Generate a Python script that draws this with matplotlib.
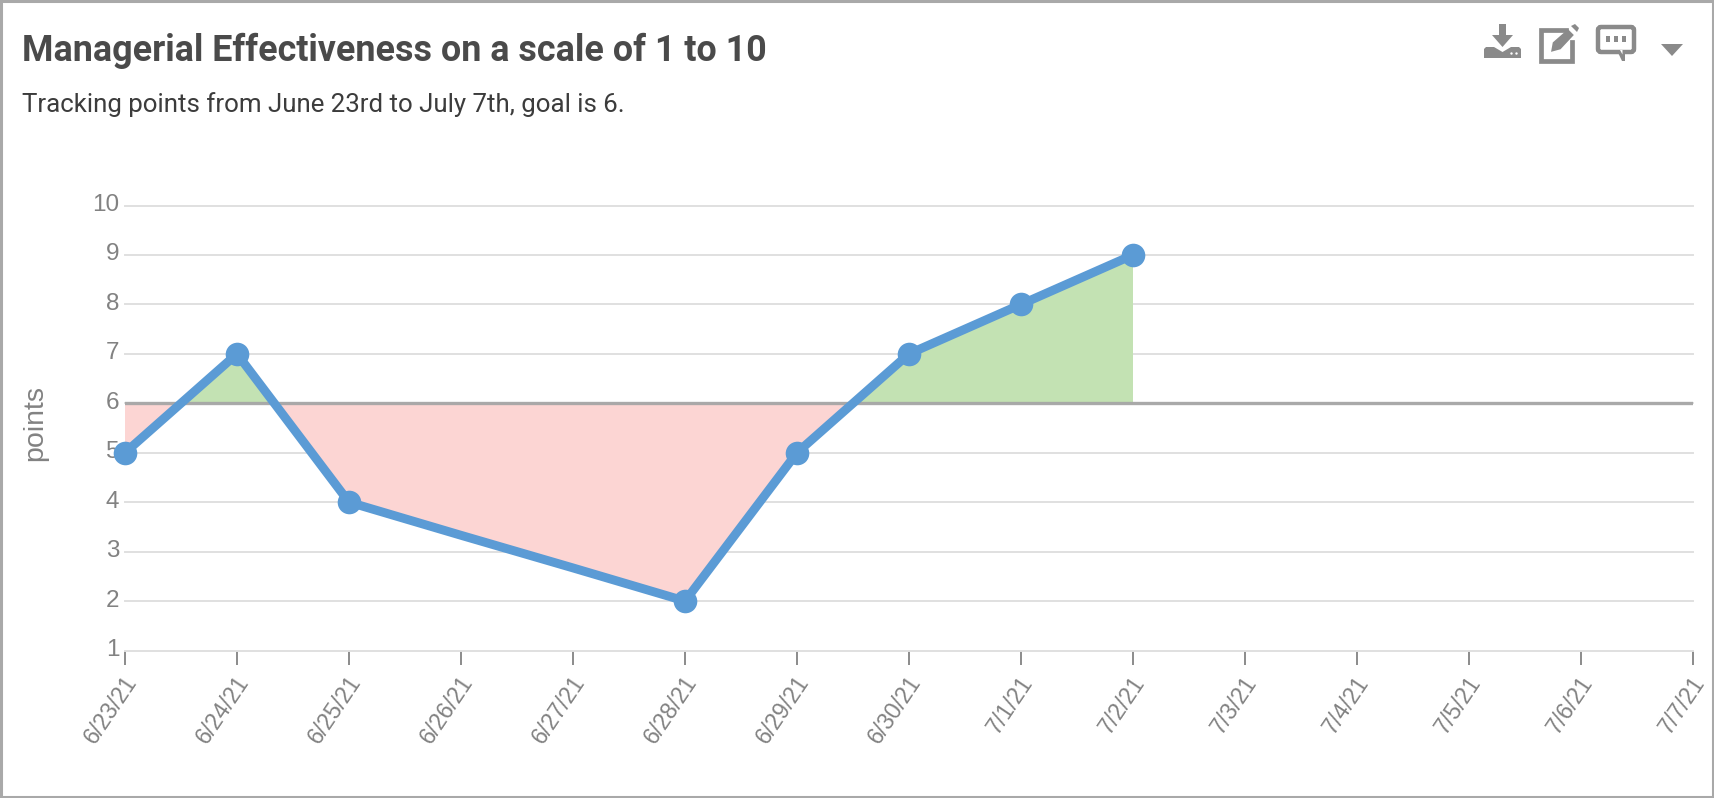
import matplotlib
matplotlib.use("Agg")
import matplotlib.pyplot as plt
import matplotlib.dates as mdates
from matplotlib.patches import Polygon, Rectangle, FancyBboxPatch, Circle
from matplotlib.transforms import ScaledTranslation
from datetime import date, timedelta
import numpy as np

W, H = 1714, 798
TITLE = "Managerial Effectiveness on a scale of 1 to 10"
SUBTITLE = "Tracking points from June 23rd to July 7th, goal is 6."
Y_LABEL = "points"
GOAL = 6
y_ticks = [1, 2, 3, 4, 5, 6, 7, 8, 9, 10]
tick_dates = [date(2021, 6, 23) + timedelta(days=i) for i in range(15)]
point_dates = tick_dates[:10]
point_values = [5, 7, 4, 3.33, 2.67, 2, 5, 7, 8, 9]
marker_mask = [True, True, True, False, False, True, True, True, True, True]

BLUE = "#5b9bd5"
GREY_TEXT = "#828282"
GRID = "#e0e0e0"
GOAL_LINE = "#a6a6a6"
GREEN = "#c3e2b3"
RED = "#fcd5d3"
ICON = "#8a8a8a"

fig = plt.figure(figsize=(W / 100, H / 100), dpi=100, facecolor="white")


def px_axes(left, right, top, bottom):
    return fig.add_axes([left / W, 1 - bottom / H, (right - left) / W, (bottom - top) / H])


def px_shift(dx, dy):
    return ScaledTranslation(dx / 100, dy / 100, fig.dpi_scale_trans)


ax = px_axes(125, 1693, 205.5, 650.5)
x = mdates.date2num(point_dates)
values = np.array(point_values)

# Shaded area between the series and the goal
ax.fill_between(x, values, GOAL, where=values >= GOAL, interpolate=True, color=GREEN, lw=0, zorder=1)
ax.fill_between(x, values, GOAL, where=values <= GOAL, interpolate=True, color=RED, lw=0, zorder=1)
ax.axhline(GOAL, color=GOAL_LINE, lw=2.4, zorder=2, alpha=0.95)

# Series line, with markers only on the dates that carry a reading
ax.plot(x, values, color=BLUE, lw=6.4, solid_joinstyle="round", zorder=3, clip_on=False)
ax.plot(x[marker_mask], values[marker_mask], "o", color=BLUE, ms=17, mew=0, zorder=4, clip_on=False)

ax.set_xlim(mdates.date2num(tick_dates[0]), mdates.date2num(tick_dates[-1]))
ax.set_ylim(1, 10)
ax.set_yticks(y_ticks)
ax.set_xticks(mdates.date2num(tick_dates))
ax.set_xticklabels([f"{d.month}/{d.day}/{d.strftime('%y')}" for d in tick_dates],
                   rotation=56, ha="right", va="center", rotation_mode="anchor",
                   family="Liberation Sans", fontsize=16.6, color=GREY_TEXT)
ax.tick_params(axis="x", length=10, width=1.3, color=GREY_TEXT, pad=10)
ax.tick_params(axis="y", length=0, pad=4)
for lab in ax.get_xticklabels():
    lab.set_transform(lab.get_transform() + px_shift(7, 0))
for lab in ax.get_yticklabels():
    lab.set(family="Liberation Sans", fontsize=17.5, color=GREY_TEXT)
    lab.set_transform(lab.get_transform() + px_shift(0, 3))
ax.grid(axis="y", color=GRID, lw=1.4, zorder=0)
for gl in ax.get_ygridlines():
    gl.set_clip_on(False)
ax.set_axisbelow(True)
for s in ax.spines.values():
    s.set_visible(False)
ax.patch.set_alpha(0)

# Overlay in pixel coordinates for header text, toolbar glyphs and frame
ov = fig.add_axes([0, 0, 1, 1], zorder=10)
ov.set_xlim(0, W)
ov.set_ylim(H, 0)
ov.axis("off")
ov.patch.set_alpha(0)

ov.text(22, 50.5, TITLE, family="Roboto", weight="bold", fontsize=25.85, color="#4a4a4a", va="center", ha="left")
ov.text(22, 104.5, SUBTITLE, family="Roboto", fontsize=18.6, color="#3c3c3c", va="center", ha="left")
ov.text(35, 423, Y_LABEL, family="Liberation Sans", fontsize=20.5, color=GREY_TEXT,
        rotation=90, va="center", ha="center")

ov.add_patch(Rectangle((1, 1), W - 2, H - 2, fill=False, ec="#a9a9a9", lw=2.2))

# Download glyph
ov.add_patch(Polygon([(1499, 24), (1506, 24), (1506, 35), (1513, 35), (1502.5, 47), (1492, 35), (1499, 35)],
                     fc=ICON, ec="none"))
ov.add_patch(Polygon([(1486, 47), (1494, 47), (1502.5, 52), (1511, 47), (1519, 47), (1521, 49), (1521, 58),
                      (1484, 58), (1484, 49)], fc=ICON, ec="none"))
ov.add_patch(Circle((1511.5, 53.5), 1.2, fc="white", ec="none"))
ov.add_patch(Circle((1516.5, 53.5), 1.2, fc="white", ec="none"))

# Edit glyph: square outline and pencil
ov.plot([1572, 1572, 1541, 1541, 1566], [42, 61, 61, 30, 30], color=ICON, lw=3.4, solid_joinstyle="miter")
ov.add_patch(Polygon([(1550, 53), (1552, 42), (1568, 28), (1575, 35), (1561, 50)], fc=ICON, ec="white", lw=1.2))
ov.add_patch(Polygon([(1571, 26), (1575, 24), (1579, 28), (1577, 32)], fc=ICON, ec="none"))

# Comment glyph: speech bubble with three dots
ov.add_patch(FancyBboxPatch((1598, 27), 36, 25, boxstyle="round,pad=0,rounding_size=3",
                            fc="white", ec=ICON, lw=3.2))
ov.add_patch(Polygon([(1617, 50.5), (1622, 61), (1625, 61), (1625, 50.5)], fc=ICON, ec="none"))
ov.add_patch(Polygon([(1620, 50), (1622.5, 54.5), (1622.5, 50)], fc="white", ec="none"))
for bx in (1606, 1614, 1622):
    ov.add_patch(Rectangle((bx, 36), 4, 6, fc=ICON, ec="none"))

# Dropdown caret
ov.add_patch(Polygon([(1661, 44), (1683, 44), (1672, 56)], fc=ICON, ec="none"))

fig.savefig("out.png", dpi=100, facecolor="white")
